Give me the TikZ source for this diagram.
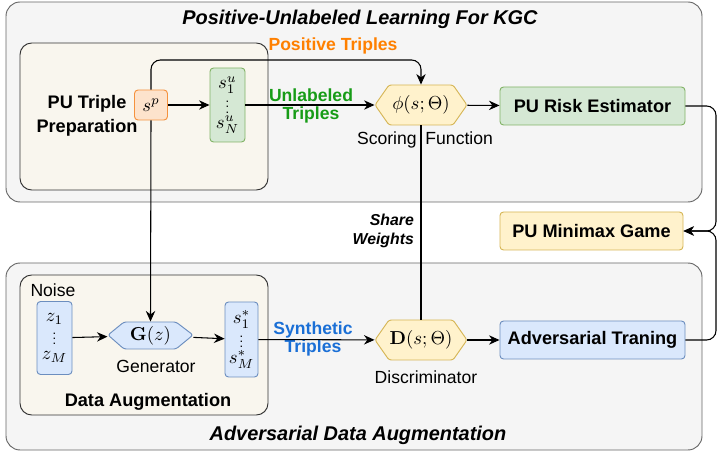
\documentclass[tikz,border=0pt]{standalone}
\usepackage{graphicx}
\usepackage[no-math]{fontspec}
\setmainfont{Liberation Sans}
\usetikzlibrary{arrows.meta}
\newcommand{\bm}[1]{\scalebox{1.6}{$#1$}}
\newcommand{\vd}{\scalebox{1.1}{$\vdots$}}
\definecolor{outerfill}{HTML}{F5F5F5}
\definecolor{outerdraw}{HTML}{666666}
\definecolor{beige}{HTML}{F9F6EE}
\definecolor{orfill}{HTML}{FDE3CC}
\definecolor{ordraw}{HTML}{F5923E}
\definecolor{grfill}{HTML}{D5E8D4}
\definecolor{grdraw}{HTML}{82B366}
\definecolor{yefill}{HTML}{FFF2CC}
\definecolor{yedraw}{HTML}{D6B656}
\definecolor{blfill}{HTML}{DAE8FC}
\definecolor{bldraw}{HTML}{6C8EBF}
\definecolor{txtor}{HTML}{FF8000}
\definecolor{txtgr}{HTML}{179C17}
\definecolor{txtbl}{HTML}{1A6FD6}
\tikzset{
  outer/.style={draw=outerdraw, fill=outerfill, rounded corners=12pt, line width=0.8pt},
  inner/.style={draw=black!80, fill=beige, rounded corners=10pt, line width=0.8pt},
  box/.style={rounded corners=3pt, line width=0.8pt, inner sep=0pt, font=\fontsize{15.5}{18}\selectfont\bfseries},
  vec/.style={rounded corners=3pt, line width=0.8pt, inner sep=0pt, align=center, font=\fontsize{10}{12}\selectfont},
  hex/.style={line width=0.8pt},
  lbl/.style={font=\fontsize{15}{18}\selectfont},
  blbl/.style={font=\fontsize{15}{16}\selectfont\bfseries, align=center},
  title/.style={font=\fontsize{17}{20}\selectfont\bfseries\itshape},
  arr/.style={-{Stealth[length=9pt,width=8pt]}, line width=0.9pt},
  ln/.style={line width=0.9pt},
}
\begin{document}
\begin{tikzpicture}[x=0.03cm,y=-0.03cm]
\useasboundingbox (0,0) rectangle (720,456);
% outer boxes
\draw[outer] (6,2) rectangle (702,202);
\draw[outer] (6,263) rectangle (702,450);
\node[title] (t1) at (360,19) {Positive-Unlabeled Learning For KGC};
\node[title] (t2) at (358,435) {Adversarial Data Augmentation};
% inner boxes
\draw[inner] (20,43) rectangle (268,190);
\draw[inner] (20,275) rectangle (268,415);
\node[blbl, font=\fontsize{15.5}{20}\selectfont\bfseries] (prep) at (87,116) {PU Triple\\Preparation};
\node[box] (da) at (148,402) {Data Augmentation};
\node[lbl] (noise) at (53,290) {Noise};
% vector boxes
\node[vec, draw=ordraw, fill=orfill, minimum width=33*0.03cm, minimum height=30*0.03cm] (sp) at (151,105) {\bm{s^p}};
\node[vec, draw=grdraw, fill=grfill, minimum width=35*0.03cm, minimum height=74*0.03cm] (su) at (227.5,105) {\bm{s^u_1}\\[-1pt]\vd\\[1pt]\bm{s^u_N}};
\node[vec, draw=bldraw, fill=blfill, minimum width=35*0.03cm, minimum height=73*0.03cm] (z) at (54.5,338) {\bm{z_1}\\[0pt]\vd\\[1pt]\bm{z_M}};
\node[vec, draw=bldraw, fill=blfill, minimum width=33*0.03cm, minimum height=75*0.03cm] (ss) at (241.5,339.5) {\bm{s^*_1}\\[-1pt]\vd\\[1pt]\bm{s^*_M}};
% hexagons
\draw[hex, draw=yedraw, fill=yefill, rounded corners=2pt] (375,105) -- (389,85) -- (453,85) -- (467,105) -- (453,125) -- (389,125) -- cycle;
\node[vec, minimum width=92*0.03cm, minimum height=40*0.03cm] (phi) at (421,105) {\bm{\phi(s;\Theta)}};
\draw[hex, draw=yedraw, fill=yefill, rounded corners=2pt] (375,340) -- (389,320) -- (453,320) -- (467,340) -- (453,360) -- (389,360) -- cycle;
\node[vec, minimum width=92*0.03cm, minimum height=40*0.03cm] (D) at (421,340) {\bm{\mathbf{D}(s;\Theta)}};
\draw[hex, draw=bldraw, fill=blfill, rounded corners=2pt] (108,335) -- (124,322) -- (176,322) -- (193,335) -- (176,349) -- (124,349) -- cycle;
\node[vec, minimum width=85*0.03cm, minimum height=27*0.03cm] (G) at (150.5,335.5) {\bm{\mathbf{G}(z)}};
\node[lbl] (scor) at (425,140) {Scoring\enspace Function};
\node[lbl] (disc) at (426,377) {Discriminator};
\node[lbl] (gen) at (156,366) {Generator};
% right boxes
\node[box, draw=grdraw, fill=grfill, minimum width=185*0.03cm, minimum height=38*0.03cm] (risk) at (592.5,106) {PU Risk Estimator};
\node[box, draw=yedraw, fill=yefill, minimum width=183*0.03cm, minimum height=38*0.03cm] (mm) at (591.5,231) {PU Minimax Game};
\node[box, draw=bldraw, fill=blfill, minimum width=185*0.03cm, minimum height=38*0.03cm] (adv) at (592.5,340) {Adversarial Traning};
% labels
\node[blbl, text=txtor] (pos) at (333,46) {Positive Triples};
\node[blbl, text=txtgr] (unl) at (311,106) {Unlabeled\\Triples};
\node[blbl, text=txtbl] (syn) at (313,339) {Synthetic\\Triples};
\node[blbl, font=\fontsize{13.5}{16}\selectfont\bfseries\itshape, align=right, anchor=east] (sw) at (418,231) {Share\\Weights};
% connectors
\draw[arr] (sp) -- (su);
\draw[arr] (su) -- (phi);
\draw[arr, rounded corners=8pt] (sp.north) -- (151,60) -- (421,60) -- (phi.north);
\draw[arr] (sp.south) -- (G.north);
\draw[arr] (z) -- (G);
\draw[arr] (G) -- (ss);
\draw[arr] (ss) -- (D);
\draw[ln] (phi.south) -- (D.north);
\draw[arr] (phi) -- (risk);
\draw[arr] (D) -- (adv);
\draw[arr, rounded corners=8pt] (risk.east) -- (716,106) -- (716,231) -- (mm.east);
\draw[arr, rounded corners=8pt] (adv.east) -- (716,340) -- (716,231) -- (mm.east);
\end{tikzpicture}
\end{document}
